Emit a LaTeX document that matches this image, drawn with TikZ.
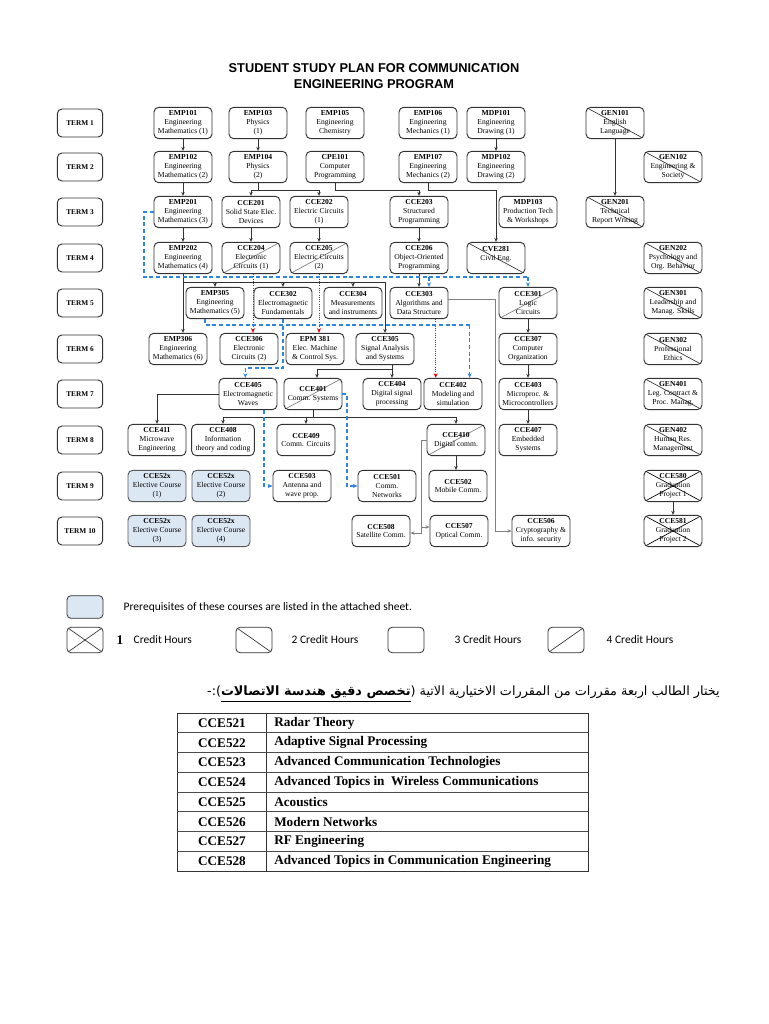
\documentclass[tikz,border=0pt]{standalone}
\usepackage{fontspec}
\setmainfont{Liberation Serif}
\newfontfamily\titlefont{Liberation Sans}
\newfontfamily\legfont{Carlito}
\newfontfamily\arabicfont[Script=Arabic]{DejaVu Sans}
\TeXXeTstate=1
\usetikzlibrary{arrows.meta}
\definecolor{bx}{HTML}{333333}
\definecolor{elec}{HTML}{DCE7F4}
\definecolor{bl}{HTML}{2E86DE}
\tikzset{
 c/.style={draw=bx,line width=0.7pt,rounded corners=3.5pt,minimum width=43.5pt,minimum height=23.5pt,align=center,inner sep=0.5pt,font=\fontsize{5.7}{6.6}\selectfont},
 cw/.style={c,minimum width=47pt},
 el/.style={c,fill=elec,draw=gray!70!black},
 term/.style={draw=bx,line width=0.7pt,rounded corners=3.5pt,minimum width=34pt,minimum height=21pt,font=\fontsize{5.5}{6.4}\selectfont\bfseries},
 c4/.style={c,path picture={\draw[gray,line width=0.5pt](path picture bounding box.south west)--(path picture bounding box.north east);}},
 c2/.style={c,path picture={\draw[gray!40!black,line width=0.5pt](path picture bounding box.north west)--(path picture bounding box.south east);}},
 c1/.style={c,path picture={\draw[black,line width=0.5pt](path picture bounding box.north west)--(path picture bounding box.south east)(path picture bounding box.south west)--(path picture bounding box.north east);}},
 arr/.style={draw=bx,line width=0.6pt,-{Stealth[length=3pt,width=2.6pt]}},
 ln/.style={draw=bx,line width=0.6pt},
 gl/.style={draw=gray,line width=0.5pt,-{Stealth[length=3pt,width=2.6pt]}},
 rd/.style={draw=red!90!black,line width=0.7pt,densely dotted,-{Stealth[length=3.5pt,width=3pt]}},
 bd/.style={draw=bl,line width=0.8pt,dashed,dash pattern=on 3pt off 2pt},
 bda/.style={bd,-{Stealth[length=3.5pt,width=3pt]}},
 lb/.style={draw=bx,line width=0.6pt,rounded corners=3pt,minimum width=27pt,minimum height=17pt},
 tc/.style={font=\fontsize{9.9}{11}\selectfont\bfseries,inner sep=0pt},
 lg/.style={anchor=west,font=\legfont\fontsize{8.6}{9}\selectfont},
}
\begin{document}
\begin{tikzpicture}[x=0.75pt,y=-0.75pt]
\useasboundingbox (0,0) rectangle (768,1024);
\fill[white] (0,0) rectangle (768,1024);
\node[font=\titlefont\bfseries\fontsize{9.6}{11.5}\selectfont,align=center] (title) at (374,76) {STUDENT STUDY PLAN FOR COMMUNICATION\\ENGINEERING PROGRAM};
% terms
\foreach \i/\y in {1/123,2/167,3/212,4/258,5/303,6/349,7/394,8/440,9/486,10/531}
  \node[term] (T\i) at (80,\y) {TERM \i};
% term 1
\node[c] (EMP101) at (183,123) {\textbf{EMP101}\\Engineering\\Mathematics (1)};
\node[c] (EMP103) at (258,123) {\textbf{EMP103}\\Physics\\(1)};
\node[c] (EMP105) at (335,123) {\textbf{EMP105}\\Engineering\\Chemistry};
\node[c] (EMP106) at (428,123) {\textbf{EMP106}\\Engineering\\Mechanics (1)};
\node[c] (MDP101) at (496,123) {\textbf{MDP101}\\Engineering\\Drawing (1)};
\node[c2] (GEN101) at (615,123) {\textbf{GEN101}\\English\\Language};
% term 2
\node[c] (EMP102) at (183,167) {\textbf{EMP102}\\Engineering\\Mathematics (2)};
\node[c] (EMP104) at (258,167) {\textbf{EMP104}\\Physics\\(2)};
\node[c] (CPE101) at (335,167) {\textbf{CPE101}\\Computer\\Programming};
\node[c] (EMP107) at (428,167) {\textbf{EMP107}\\Engineering\\Mechanics (2)};
\node[c] (MDP102) at (496,167) {\textbf{MDP102}\\Engineering\\Drawing (2)};
\node[c2] (GEN102) at (673,167) {\textbf{GEN102}\\Engineering \&\\Society};
% term 3
\node[c] (EMP201) at (183,212) {\textbf{EMP201}\\Engineering\\Mathematics (3)};
\node[c] (CCE201) at (251,212) {\textbf{CCE201}\\Solid State Elec.\\Devices};
\node[c] (CCE202) at (319,212) {\textbf{CCE202}\\Electric Circuits\\(1)};
\node[c] (CCE203) at (419,212) {\textbf{CCE203}\\Structured\\Programming};
\node[c] (MDP103) at (528,212) {\textbf{MDP103}\\Production Tech\\\& Workshops};
\node[c2] (GEN201) at (615,212) {\textbf{GEN201}\\Technical\\Report Writing};
% term 4
\node[c] (EMP202) at (183,258) {\textbf{EMP202}\\Engineering\\Mathematics (4)};
\node[c4] (CCE204) at (251,258) {\textbf{CCE204}\\Electronic\\Circuits (1)};
\node[c4] (CCE205) at (319,258) {\textbf{CCE205}\\Electric Circuits\\(2)};
\node[c] (CCE206) at (419,258) {\textbf{CCE206}\\Object-Oriented\\Programming};
\node[c2] (CVE281) at (496,258) {\textbf{CVE281}\\Civil Eng.\\};
\node[c2] (GEN202) at (673,258) {\textbf{GEN202}\\Psychology and\\Org. Behavior};
% term 5
\node[c] (EMP305) at (215,303) {\textbf{EMP305}\\Engineering\\Mathematics (5)};
\node[c] (CCE302) at (283,303) {\textbf{CCE302}\\Electromagnetic\\Fundamentals};
\node[c] (CCE304) at (353,303) {\textbf{CCE304}\\Measurements\\and instruments};
\node[c] (CCE303) at (419,303) {\textbf{CCE303}\\Algorithms and\\Data Structure};
\node[c4] (CCE301) at (528,303) {\textbf{CCE301}\\Logic\\Circuits};
\node[c2] (GEN301) at (673,303) {\textbf{GEN301}\\Leadership and\\Manag. Skills};
% term 6
\node[c] (EMP306) at (178,349) {\textbf{EMP306}\\Engineering\\Mathematics (6)};
\node[c] (CCE306) at (249,349) {\textbf{CCE306}\\Electronic\\Circuits (2)};
\node[c] (EPM381) at (315,349) {\textbf{EPM 381}\\Elec. Machine\\\& Control Sys.};
\node[c] (CCE305) at (385,349) {\textbf{CCE305}\\Signal Analysis\\and Systems};
\node[c] (CCE307) at (528,349) {\textbf{CCE307}\\Computer\\Organization};
\node[c2] (GEN302) at (673,349) {\textbf{GEN302}\\Professional\\Ethics};
% term 7
\node[c] (CCE405) at (248,394) {\textbf{CCE405}\\Electromagnetic\\Waves};
\node[c4] (CCE401) at (313,394) {\textbf{CCE401}\\Comm. Systems};
\node[c] (CCE404) at (392,394) {\textbf{CCE404}\\Digital signal\\processing};
\node[c] (CCE402) at (453,394) {\textbf{CCE402}\\Modeling and\\simulation};
\node[c] (CCE403) at (528,394) {\textbf{CCE403}\\Microproc. \&\\Microcontrollers};
\node[c2] (GEN401) at (673,394) {\textbf{GEN401}\\Leg. Contract \&\\Proc. Manag.};
% term 8
\node[c] (CCE411) at (157,440) {\textbf{CCE411}\\Microwave\\Engineering};
\node[cw] (CCE408) at (223,440) {\textbf{CCE408}\\Information\\theory and coding};
\node[c] (CCE409) at (306,440) {\textbf{CCE409}\\Comm. Circuits};
\node[c4] (CCE410) at (456,440) {\textbf{CCE410}\\Digital comm.};
\node[c] (CCE407) at (528,440) {\textbf{CCE407}\\Embedded\\Systems};
\node[c2] (GEN402) at (673,440) {\textbf{GEN402}\\Human Res.\\Management};
% term 9
\node[el] (E1) at (157,486) {\textbf{CCE52x}\\Elective Course\\(1)};
\node[el] (E2) at (221,486) {\textbf{CCE52x}\\Elective Course\\(2)};
\node[c] (CCE503) at (302,486) {\textbf{CCE503}\\Antenna and\\wave prop.};
\node[c] (CCE501) at (387,486) {\textbf{CCE501}\\Comm.\\Networks};
\node[c] (CCE502) at (458,486) {\textbf{CCE502}\\Mobile Comm.};
\node[c1] (CCE580) at (673,486) {\textbf{CCE580}\\Graduation\\Project 1};
% term 10
\node[el] (E3) at (157,531) {\textbf{CCE52x}\\Elective Course\\(3)};
\node[el] (E4) at (221,531) {\textbf{CCE52x}\\Elective Course\\(4)};
\node[c] (CCE508) at (381,531) {\textbf{CCE508}\\Satellite Comm.};
\node[c] (CCE507) at (459,531) {\textbf{CCE507}\\Optical Comm.};
\node[c] (CCE506) at (541,531) {\textbf{CCE506}\\Cryptography \&\\info. security};
\node[c1] (CCE581) at (673,531) {\textbf{CCE581}\\Graduation\\Project 2};
% coordinates
\coordinate (b2) at (0,190);
\coordinate (b5) at (0,282);
\coordinate (b6) at (0,369);
\coordinate (b7) at (0,417);
\coordinate (g1) at (421,0);
\coordinate (g2) at (495,0);
\coordinate (d1) at (144,277);
\coordinate (d2) at (0,325);
\coordinate (d3) at (0,368);
\coordinate (d4) at (347,0);
% black
\draw[arr] (EMP101)--(EMP102);
\draw[arr] (EMP102)--(EMP201);
\draw[arr] (EMP201)--(EMP202);
\draw[arr] (EMP103)--(EMP104);
\draw[arr] (MDP101)--(MDP102);
\draw[arr] (GEN101)--(GEN201);
\draw[arr] (EMP104.south)--(EMP104.south|-b2)-|(CCE201.north);
\draw[arr] (EMP104.south|-b2)-|(CCE202.north);
\draw[arr] (CPE101.south)--(CPE101.south|-b2)-|(CCE203.north);
\draw[arr] (EMP107.south)--(EMP107.south|-b2)-|(CVE281.north);
\draw[arr] (CCE201)--(CCE204);
\draw[arr] (CCE202)--(CCE205);
\draw[arr] (CCE203)--(CCE206);
\draw[arr] (CCE206)--(CCE303);
\draw[ln] (EMP202.south)--(EMP202.south|-b5)--(CCE305.north|-b5);
\draw[arr] (CCE305.north|-b5)--(CCE305.north);
\draw[arr] (EMP202.south|-b5)--(EMP202.south|-EMP306.north);
\draw[arr] (EMP305.north|-b5)--(EMP305.north);
\draw[arr] (CCE302.north|-b5)--(CCE302.north);
\draw[arr] (CCE304.north|-b5)--(CCE304.north);
\draw[arr] (CCE301)--(CCE307);
\draw[arr] (CCE307)--(CCE403);
\draw[arr] (CCE403)--(CCE407);
\draw[arr] (CCE404.north|-CCE305.south)--(CCE404.north);
\draw[arr] (CCE404.north|-b6)-|([xshift=3pt]CCE401.north);
\draw[ln] (CCE401.south)--(CCE401.south|-b7);
\draw[ln] (CCE408.north|-b7)--(CCE410.north|-b7);
\draw[arr] (CCE408.north|-b7)--(CCE408.north);
\draw[arr] (CCE409.north|-b7)--(CCE409.north);
\draw[arr] (CCE410.north|-b7)--(CCE410.north);
\draw[arr] (CCE405.west)-|(CCE411.north);
\draw[arr] (CCE410)--(CCE410|-CCE502.north);
\draw[arr] (CCE580)--(CCE581);
% grey
\draw[gl] (CCE410.west)--(CCE410.west-|g1)--([yshift=-1.5pt]g1|-CCE508.east)--([yshift=-1.5pt]CCE508.east);
\draw[gl] ([yshift=3pt]g1|-CCE507.west)--([yshift=3pt]CCE507.west);
\draw[gl] ([yshift=3pt]CCE303.east)--([yshift=3pt]CCE303.east-|g2)|-(CCE506.west);
% red
\draw[rd] ([xshift=1.5pt]CCE204.south)--([xshift=1.5pt]CCE204.south|-CCE306.north);
\draw[rd] (CCE205.south)--(CCE205.south|-EPM381.north);
\draw[rd] ([xshift=12.5pt]CCE303.south)--([xshift=12.5pt]CCE303.south|-CCE402.north);
% blue
\draw[bd] (EMP201.west)-|(d1)--(d1-|CCE301.north);
\draw[bda] (d1-|CCE301.north)--(CCE301.north);
\draw[bda] ([xshift=7.5pt]CCE303.north|-d1)--([xshift=7.5pt]CCE303.north);
\draw[bd] ([xshift=-7.5pt]EMP305.south)--([xshift=-7.5pt]EMP305.south|-d2)--([xshift=12.5pt]CCE402.north|-d2);
\draw[bda] ([xshift=12.5pt]CCE402.north|-d2)--([xshift=12.5pt]CCE402.north);
\draw[bda] (CCE302.south)--(CCE302.south|-d3)-|([xshift=-2pt]CCE405.north);
\draw[bda] ([xshift=12pt]CCE405.south)|-(CCE503.west);
\draw[bda] (CCE401.east)--(CCE401.east-|d4)|-(CCE501.west);
% legend
\node[lb,fill=elec] (L0) at (85,607) {};
\node[lg] (L0t) at (119,607) {Prerequisites of these courses are listed in the attached sheet.};
\node[lb,minimum height=19pt,path picture={\draw[line width=0.5pt](path picture bounding box.north west)--(path picture bounding box.south east)(path picture bounding box.south west)--(path picture bounding box.north east);}] (L1) at (85,640) {};
\node[anchor=west,font=\fontsize{10}{11}\selectfont\bfseries] (L1n) at (112,640) {1};
\node[lg] (L1t) at (129,640) {Credit Hours};
\node[lb,minimum height=19pt,path picture={\draw[line width=0.5pt](path picture bounding box.north west)--(path picture bounding box.south east);}] (L2) at (254,640) {};
\node[lg] (L2t) at (287,640) {2 Credit Hours};
\node[lb,minimum height=19pt] (L3) at (406,640) {};
\node[lg] (L3t) at (450,640) {3 Credit Hours};
\node[lb,minimum height=19pt,path picture={\draw[line width=0.5pt](path picture bounding box.south west)--(path picture bounding box.north east);}] (L4) at (566,640) {};
\node[lg] (L4t) at (602,640) {4 Credit Hours};
% arabic
\node[anchor=east,font=\arabicfont\fontsize{9.6}{11}\selectfont,inner sep=0pt] (ar) at (720,694) {\beginR يختار الطالب اربعة مقررات من المقررات الاختيارية الاتية (\underline{\beginR\bfseries تخصص دقيق هندسة الاتصالات\endR}):-\endR};
% table
\draw[line width=0.6pt,black!80] (177,713) rectangle (588,871);
\draw[line width=0.6pt,black!80] (266,713)--(266,871);
\foreach \k in {1,...,7} \draw[line width=0.5pt,black!70] (177,{713+19.75*\k})--(588,{713+19.75*\k});
\foreach \k/\n/\t in {0/CCE521/Radar Theory,1/CCE522/Adaptive Signal Processing,2/CCE523/Advanced Communication Technologies,3/CCE524/Advanced Topics in~ Wireless Communications,4/CCE525/Acoustics,5/CCE526/Modern Networks,6/CCE527/RF Engineering,7/CCE528/Advanced Topics in Communication Engineering}{
 \node[tc] (tc\k) at (222,{723+19.75*\k}) {\n};
 \node[tc,anchor=west] (tn\k) at (274,{723+19.75*\k}) {\t};
}
\end{tikzpicture}
\end{document}
